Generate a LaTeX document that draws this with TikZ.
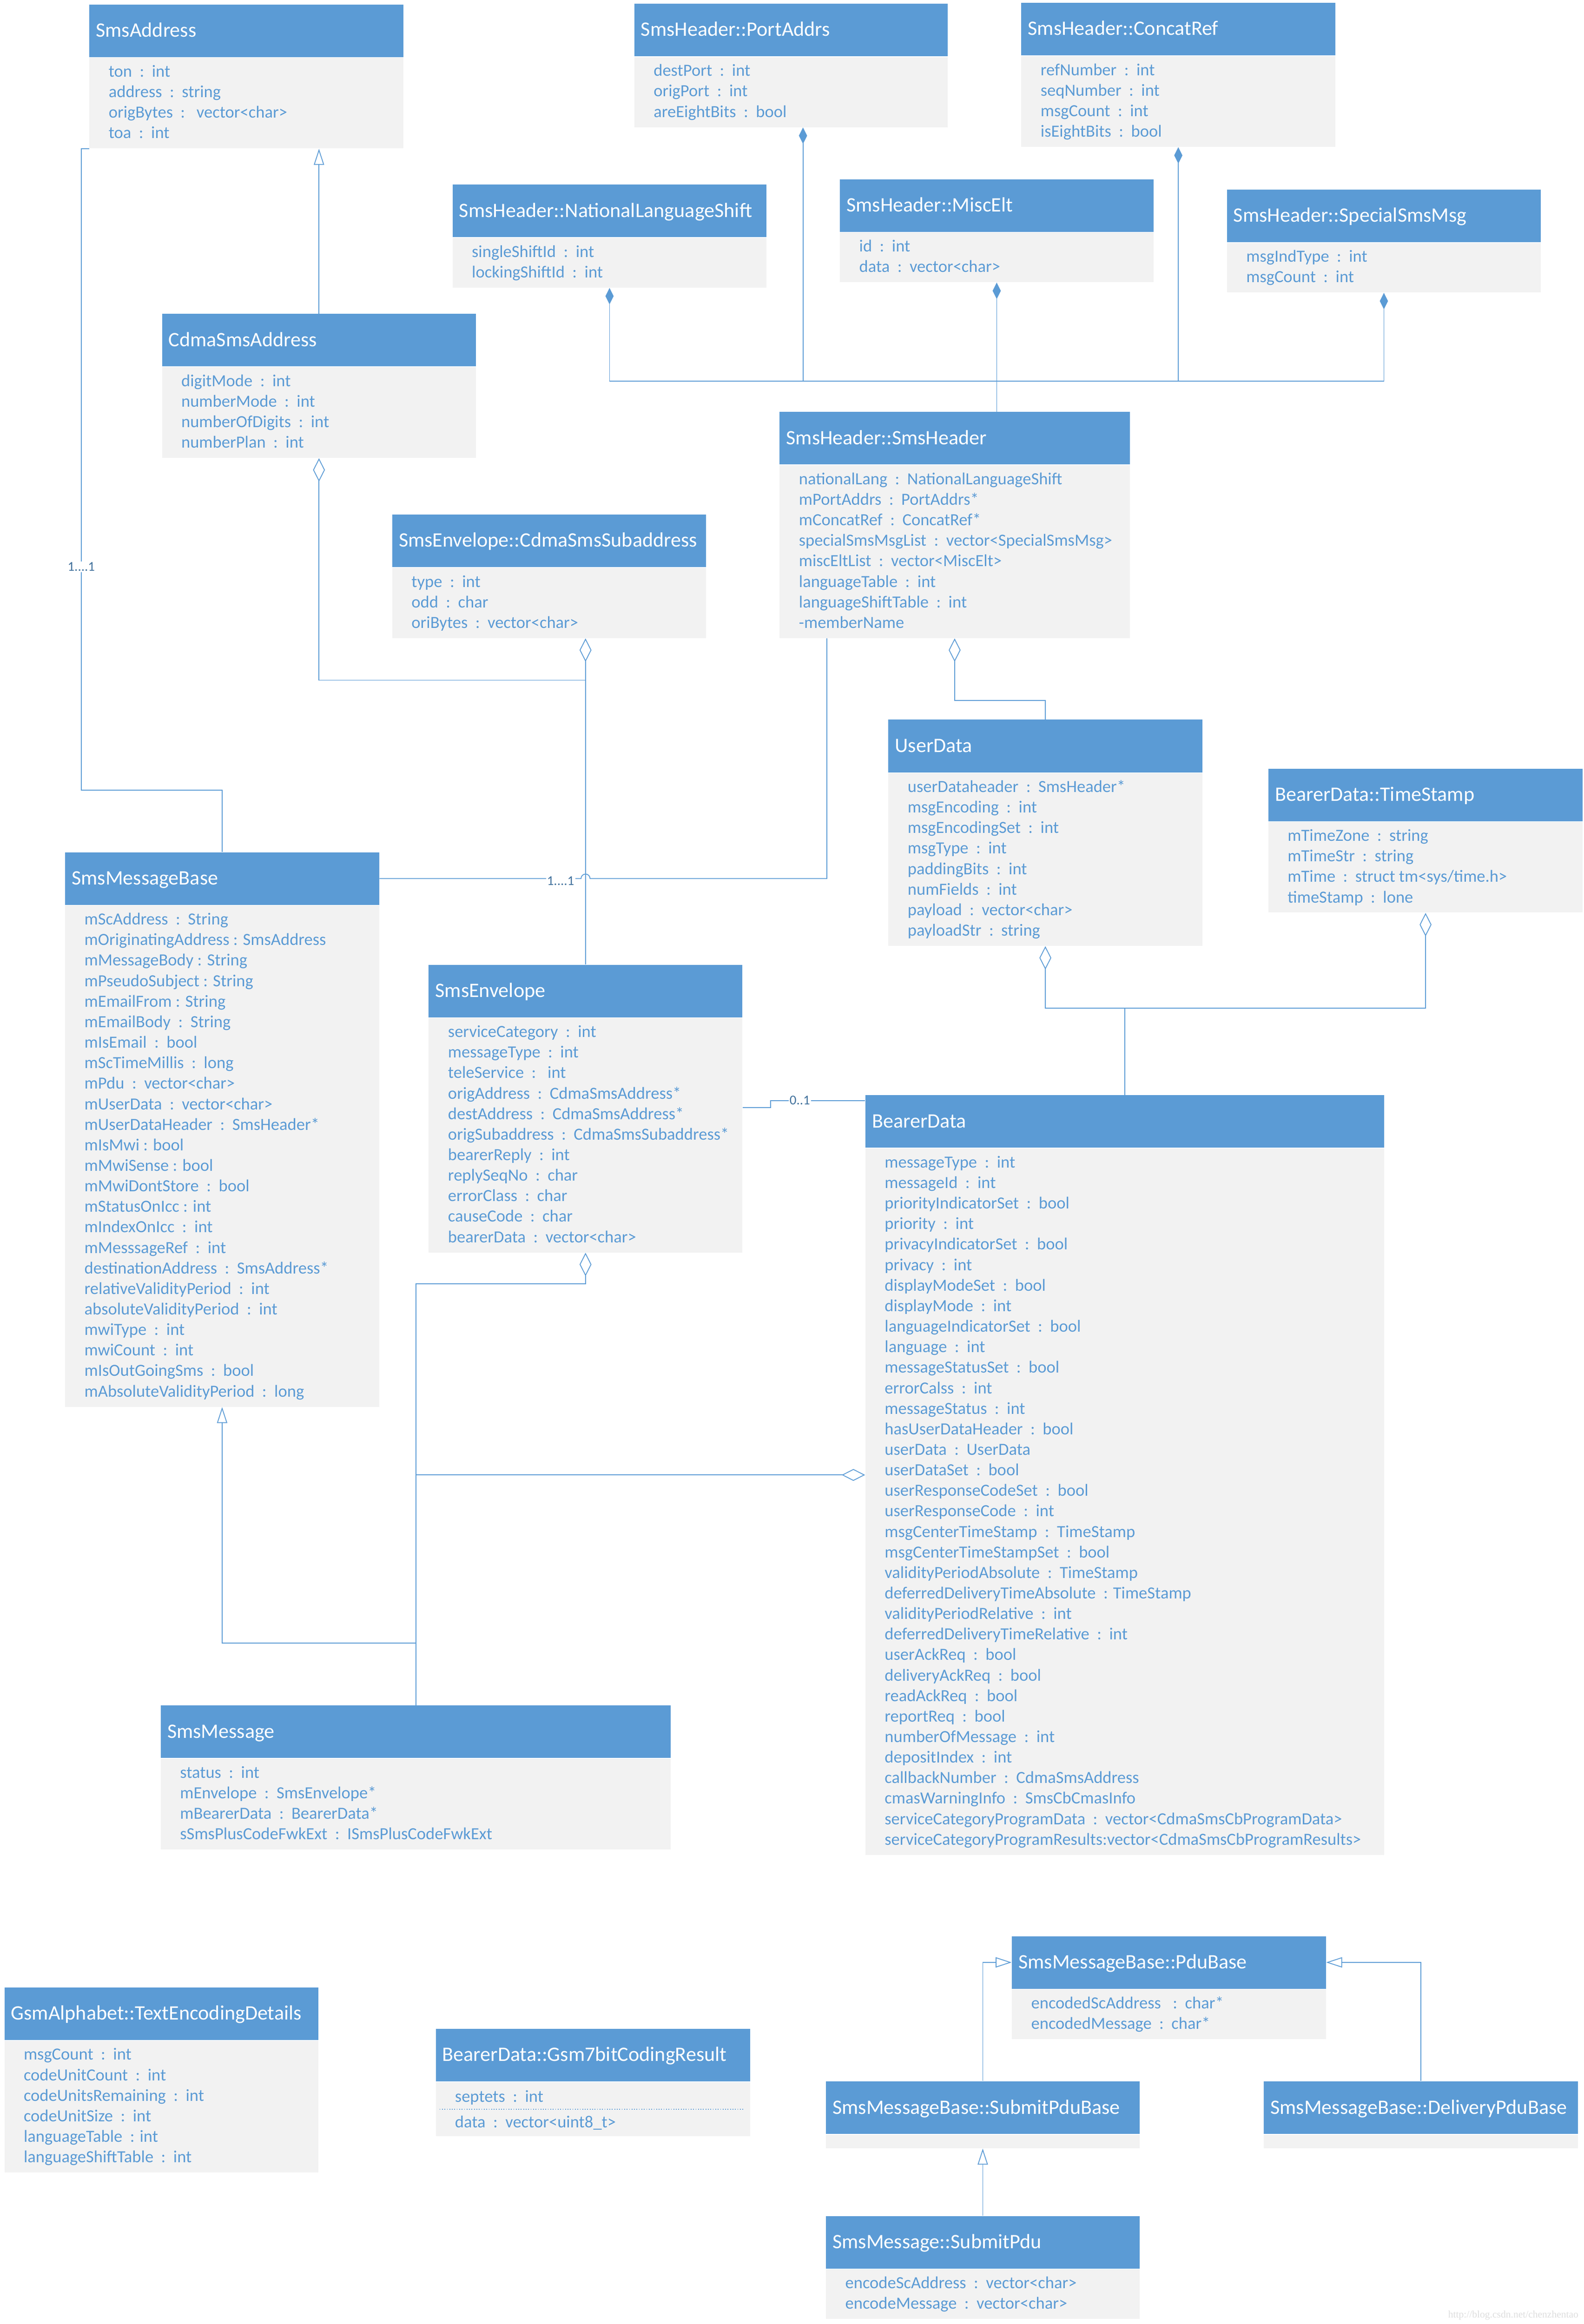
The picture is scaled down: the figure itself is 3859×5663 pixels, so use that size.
\documentclass[tikz,border=0pt]{standalone}
\usepackage{fontspec}
\setmainfont{Carlito}
\newfontfamily\wmfont{Liberation Serif}
\usetikzlibrary{arrows.meta,calc}
\definecolor{hblue}{HTML}{5B9BD5}
\definecolor{bgray}{HTML}{F2F2F2}
\definecolor{lblue}{HTML}{41719C}
\newcommand\dc{\hspace{0.45em}:\hspace{0.45em}}
\tikzset{
  hdr/.style={rectangle, fill=hblue, draw=none, inner sep=0pt, minimum height=32pt, anchor=north west},
  bdy/.style={rectangle, fill=bgray, draw=none, inner sep=0pt, anchor=north west},
  ttl/.style={inner sep=0pt, anchor=base west, text=white, font=\fontsize{12.5pt}{15pt}\selectfont},
  attr/.style={inner sep=0pt, anchor=base west, text=hblue, font=\fontsize{10.35pt}{12.5pt}\selectfont},
  lbl/.style={inner xsep=0.6pt, inner ysep=0.5pt, fill=white, text=lblue, font=\fontsize{8.2pt}{10pt}\selectfont},
  conn/.style={draw=hblue, line width=0.5pt},
  gen/.style={conn, -{Triangle[open, length=9.75pt, width=6.25pt]}},
  genstart/.style={conn, {Triangle[open, length=9.75pt, width=6.25pt]}-},
  agg/.style={conn, {Diamond[open, length=14.25pt, width=7.25pt]}-},
  aggboth/.style={conn, {Diamond[open, length=14.25pt, width=7.25pt]}-{Diamond[open, length=14.25pt, width=7.25pt]}},
  aggend/.style={conn, -{Diamond[open, length=14.25pt, width=7.25pt]}},
  comp/.style={conn, {Diamond[length=10pt, width=5pt]}-},
  compboth/.style={conn, {Diamond[length=10pt, width=5pt]}-{Diamond[length=10pt, width=5pt]}},
}
% id x y width bodyheight title
\newcommand\umlbox[6]{%
  \node[hdr, minimum width=#4*0.25pt] (#1h) at (#2,#3) {};
  \node[ttl] (#1t) at (#2+16,#3+80) {#6};
  \node[bdy, minimum width=#4*0.25pt, minimum height=(#5-2)*0.25pt] (#1) at (#2,#3+130) {};
}
% id x y lines
\newcommand\umlattrs[4]{%
  \foreach \aline [count=\i from 0] in {#4} {\node[attr] (#1a\i) at (#2+47,#3+177.5+50*\i) {\aline};}
}
\begin{document}
\begin{tikzpicture}[x=0.25pt, y=-0.25pt]
\fill[white] (0,0) rectangle (3859,5663);
\useasboundingbox (0,0) rectangle (3859,5663);

% ---------- classes ----------
\umlbox{sa}{217}{10}{765}{223}{SmsAddress}
\umlattrs{sa}{217}{10}{ton\dc int, address\dc string, origBytes\dc\ vector<char>, toa\dc int}

\umlbox{pa}{1545}{8}{764}{173}{SmsHeader::PortAddrs}
\umlattrs{pa}{1545}{8}{destPort\dc int, origPort\dc int, areEightBits\dc bool}

\umlbox{cr}{2488}{6}{765}{223}{SmsHeader::ConcatRef}
\umlattrs{cr}{2488}{6}{refNumber\dc int, seqNumber\dc int, msgCount\dc int, isEightBits\dc bool}

\umlbox{nls}{1102}{449}{765}{123}{SmsHeader::NationalLanguageShift}
\umlattrs{nls}{1102}{449}{singleShiftId\dc int, lockingShiftId\dc int}

\umlbox{me}{2046}{436}{764}{123}{SmsHeader::MiscElt}
\umlattrs{me}{2046}{436}{id\dc int, data\dc vector<char>}

\umlbox{ssm}{2989}{461}{765}{123}{SmsHeader::SpecialSmsMsg}
\umlattrs{ssm}{2989}{461}{msgIndType\dc int, msgCount\dc int}

\umlbox{csa}{394}{764}{765}{223}{CdmaSmsAddress}
\umlattrs{csa}{394}{764}{digitMode\dc int, numberMode\dc int, numberOfDigits\dc int, numberPlan\dc int}

\umlbox{sh}{1899}{1003}{853}{423}{SmsHeader::SmsHeader}
\umlattrs{sh}{1899}{1003}{nationalLang\dc NationalLanguageShift, mPortAddrs\dc PortAddrs*, mConcatRef\dc ConcatRef*, specialSmsMsgList\dc vector<SpecialSmsMsg>, miscEltList\dc vector<MiscElt>, languageTable\dc int, languageShiftTable\dc int, -memberName}

\umlbox{csub}{955}{1253}{765}{173}{SmsEnvelope::CdmaSmsSubaddress}
\umlattrs{csub}{955}{1253}{type\dc int, odd\dc char, oriBytes\dc vector<char>}

\umlbox{ud}{2164}{1753}{765}{423}{UserData}
\umlattrs{ud}{2164}{1753}{userDataheader\dc SmsHeader*, msgEncoding\dc int, msgEncodingSet\dc int, msgType\dc int, paddingBits\dc int, numFields\dc int, payload\dc vector<char>, payloadStr\dc string}

\umlbox{ts}{3090}{1872}{766}{223}{BearerData::TimeStamp}
\umlattrs{ts}{3090}{1872}{mTimeZone\dc string, mTimeStr\dc string, mTime\dc struct tm<sys/time.h>, timeStamp\dc lone}

\umlbox{smb}{158}{2076}{765}{1223}{SmsMessageBase}
\umlattrs{smb}{158}{2076}{mScAddress\dc String, mOriginatingAddress : SmsAddress, mMessageBody : String, mPseudoSubject : String, mEmailFrom : String, mEmailBody\dc String, mIsEmail\dc bool, mScTimeMillis\dc long, mPdu\dc vector<char>, mUserData\dc vector<char>, mUserDataHeader\dc SmsHeader*, mIsMwi : bool, mMwiSense : bool, mMwiDontStore\dc bool, mStatusOnIcc : int, mIndexOnIcc\dc int, mMesssageRef\dc int, destinationAddress\dc SmsAddress*, relativeValidityPeriod\dc int, absoluteValidityPeriod\dc int, mwiType\dc int, mwiCount\dc int, mIsOutGoingSms\dc bool, mAbsoluteValidityPeriod\dc long}

\umlbox{env}{1044}{2350}{764}{573}{SmsEnvelope}
\umlattrs{env}{1044}{2350}{serviceCategory\dc int, messageType\dc int, teleService\dc\ int, origAddress\dc CdmaSmsAddress*, destAddress\dc CdmaSmsAddress*, origSubaddress\dc CdmaSmsSubaddress*, bearerReply\dc int, replySeqNo\dc char, errorClass\dc char, causeCode\dc char, bearerData\dc vector<char>}

\umlbox{bd}{2108}{2668}{1264}{1723}{BearerData}
\umlattrs{bd}{2108}{2668}{messageType\dc int, messageId\dc int, priorityIndicatorSet\dc bool, priority\dc int, privacyIndicatorSet\dc bool, privacy\dc int, displayModeSet\dc bool, displayMode\dc int, languageIndicatorSet\dc bool, language\dc int, messageStatusSet\dc bool, errorCalss\dc int, messageStatus\dc int, hasUserDataHeader\dc bool, userData\dc UserData, userDataSet\dc bool, userResponseCodeSet\dc bool, userResponseCode\dc int, msgCenterTimeStamp\dc TimeStamp, msgCenterTimeStampSet\dc bool, validityPeriodAbsolute\dc TimeStamp, deferredDeliveryTimeAbsolute\hspace{0.45em}: TimeStamp, validityPeriodRelative\dc int, deferredDeliveryTimeRelative\dc int, userAckReq\dc bool, deliveryAckReq\dc bool, readAckReq\dc bool, reportReq\dc bool, numberOfMessage\dc int, depositIndex\dc int, callbackNumber\dc CdmaSmsAddress, cmasWarningInfo\dc SmsCbCmasInfo, serviceCategoryProgramData\dc vector<CdmaSmsCbProgramData>, serviceCategoryProgramResults:vector<CdmaSmsCbProgramResults>}

\umlbox{sm}{391}{4155}{1243}{223}{SmsMessage}
\umlattrs{sm}{391}{4155}{status\dc int, mEnvelope\dc SmsEnvelope*, mBearerData\dc BearerData*, sSmsPlusCodeFwkExt\dc ISmsPlusCodeFwkExt}

\umlbox{ted}{10}{4842}{765}{323}{GsmAlphabet::TextEncodingDetails}
\umlattrs{ted}{10}{4842}{msgCount\dc int, codeUnitCount\dc int, codeUnitsRemaining\dc int, codeUnitSize\dc int, languageTable\hspace{0.45em}: int, languageShiftTable\dc int}

\umlbox{g7}{1061}{4943}{766}{134}{BearerData::Gsm7bitCodingResult}
\node[attr] (g7a0) at (1108,5122) {septets\dc int};
\draw[hblue, line width=0.5pt, densely dotted] (1071,5140) -- (1814,5140);
\node[attr] (g7a1) at (1108,5184) {data\dc vector<uint8\_t>};

\umlbox{pdu}{2465}{4717}{765}{123}{SmsMessageBase::PduBase}
\umlattrs{pdu}{2465}{4717}{encodedScAddress\hspace{0.7em}:\hspace{0.45em}char*, encodedMessage\dc char*}

\umlbox{spb}{2012}{5071}{764}{35}{SmsMessageBase::SubmitPduBase}
\umlbox{dpb}{3079}{5071}{765}{35}{SmsMessageBase::DeliveryPduBase}

\umlbox{sp}{2012}{5399}{764}{123}{SmsMessage::SubmitPdu}
\umlattrs{sp}{2012}{5399}{encodeScAddress\dc vector<char>, encodeMessage\dc vector<char>}

% ---------- connectors ----------
% CdmaSmsAddress -> SmsAddress (generalization)
\draw[gen] (csah.north) -- (csah.north |- sa.south);
% SmsAddress -- SmsMessageBase
\draw[conn] (sa.south west) -- ++(-19,0) |- ($(smbh.north)+(0,-151)$) -- (smbh.north);
% SmsHeader -- SmsMessageBase (with line hop)
\draw[conn] ($(sh.south west)+(116,0)$) |- ($(envh.north |- smbh.east)+(11,0)$) arc[start angle=0, end angle=-180, radius=11] -- (smbh.east);
% compositions into SmsHeader
\coordinate (hj) at (1485,929);
\draw[compboth] (nls.south) |- (hj -| ssm.south) -- (ssm.south);
\coordinate (pad) at ($(pa.south)+(29,0)$);
\draw[comp] (pad) -- (pad |- hj);
\draw[comp] (cr.south) -- (cr.south |- hj);
\draw[comp] (me.south) -- (me.south |- shh.north);
% CdmaSmsAddress / CdmaSmsSubaddress -- SmsEnvelope
\coordinate (sj) at ($(envh.north |- csub.south)+(0,102)$);
\draw[agg] (csa.south) |- (sj);
\draw[agg] (envh.north |- csub.south) -- (envh.north);
% SmsHeader -- UserData
\draw[agg] (sh.south) -- ++(0,151) -| (udh.north);
% UserData / TimeStamp -- BearerData
\coordinate (gj) at ($(ud.south)+(0,151)$);
\draw[aggboth] (ud.south) |- (gj -| ts.south) -- (ts.south);
\draw[conn] (bdh.north) -- (bdh.north |- gj);
% SmsEnvelope -- BearerData
\draw[conn] ($(env.north east)+(0,219)$) -- ++(68,0) |- ($(bdh.north west)+(0,14)$);
% SmsEnvelope -- SmsMessage
\draw[agg] (env.south) -- ++(0,76) -| (smh.north);
% SmsMessage -- BearerData
\coordinate (mj) at ($(smh.north)+(0,-561)$);
\draw[aggend] (mj) -- (mj -| bd.west);
% SmsMessage -> SmsMessageBase
\draw[genstart] (smb.south) |- ($(smh.north)+(0,-151)$);
% Pdu hierarchy
\draw[gen] (spbh.north) |- (pduh.west);
\draw[gen] (dpbh.north) |- (pduh.east);
\draw[gen] (sph.north) -- (spb.south);

% ---------- labels ----------
\node[lbl] (l1) at (198,1381) {1....1};
\node[lbl, anchor=base] (l2) at (1366,2157) {1....1};
\node[lbl, anchor=base] (l3) at (1949,2692) {0..1};

\node[anchor=base east, inner sep=0pt, text=black!13, font=\wmfont\fontsize{6.1pt}{7pt}\selectfont] (wm) at (3847,5648) {http://blog.csdn.net/chenzhentao};
\end{tikzpicture}
\end{document}
